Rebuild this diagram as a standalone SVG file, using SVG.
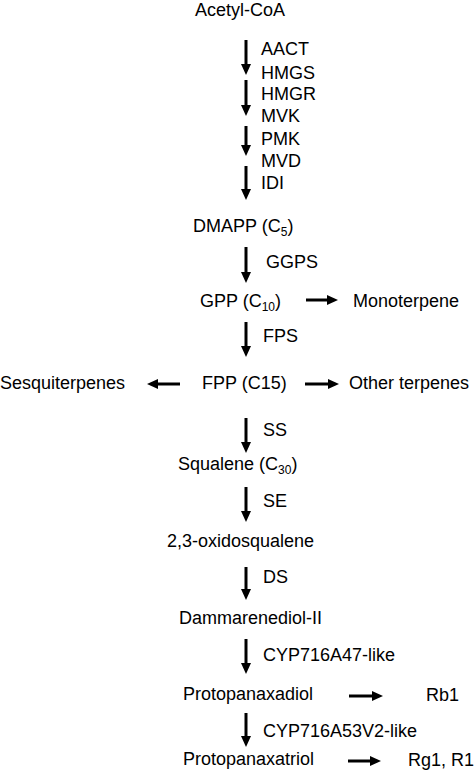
<svg xmlns="http://www.w3.org/2000/svg" width="474" height="771" viewBox="0 0 474 771">
<style>
text{font-family:"Liberation Sans",Arial,sans-serif;font-size:18px;fill:#000}
.s{font-size:12px}
.a{stroke:#000;stroke-width:3;fill:none;marker-end:url(#h)}
</style>
<defs>
<marker id="h" markerUnits="userSpaceOnUse" markerWidth="11" markerHeight="10" refX="0" refY="5" orient="auto">
<path d="M0,0 L11,5 L0,10 z" fill="#000"/>
</marker>
</defs>
<rect width="474" height="771" fill="#fff"/>
<g id="connectors">
<line class="a" x1="246" y1="40" x2="246" y2="64"/>
<line class="a" x1="246" y1="80" x2="246" y2="105"/>
<line class="a" x1="246" y1="126" x2="246" y2="145"/>
<line class="a" x1="246" y1="166" x2="246" y2="189"/>
<line class="a" x1="246" y1="247" x2="246" y2="272"/>
<line class="a" x1="306" y1="300" x2="327" y2="300"/>
<line class="a" x1="246" y1="322" x2="246" y2="346"/>
<line class="a" x1="180" y1="384" x2="158" y2="384"/>
<line class="a" x1="305" y1="384" x2="328" y2="384"/>
<line class="a" x1="246" y1="418" x2="246" y2="442"/>
<line class="a" x1="246" y1="487" x2="246" y2="511"/>
<line class="a" x1="246" y1="567" x2="246" y2="589"/>
<line class="a" x1="246" y1="639" x2="246" y2="663"/>
<line class="a" x1="349" y1="696" x2="372" y2="696"/>
<line class="a" x1="246" y1="713" x2="246" y2="736"/>
<line class="a" x1="348" y1="761" x2="370" y2="761"/>
</g>
<g id="enzymes">
<text x="261" y="55">AACT</text>
<text x="261" y="79">HMGS</text>
<text x="261" y="100">HMGR</text>
<text x="261" y="122">MVK</text>
<text x="261" y="145">PMK</text>
<text x="261" y="167">MVD</text>
<text x="261" y="189">IDI</text>
<text x="266" y="268">GGPS</text>
<text x="263" y="342">FPS</text>
<text x="263" y="436">SS</text>
<text x="263" y="507">SE</text>
<text x="263" y="583">DS</text>
<text x="263" y="661">CYP716A47-like</text>
<text x="263" y="737">CYP716A53V2-like</text>
</g>
<g id="acetylcoa"><text x="195" y="16">Acetyl-CoA</text></g>
<g id="dmapp"><text x="193" y="232">DMAPP (C<tspan class="s" dy="4">5</tspan><tspan dy="-4">)</tspan></text></g>
<g id="gpp"><text x="200" y="307">GPP (C<tspan class="s" dy="4">10</tspan><tspan dy="-4">)</tspan></text></g>
<g id="monoterpene"><text x="353" y="307">Monoterpene</text></g>
<g id="sesquiterpenes"><text x="0" y="389">Sesquiterpenes</text></g>
<g id="fpp"><text x="202" y="389">FPP (C15)</text></g>
<g id="otherterpenes"><text x="349" y="389">Other terpenes</text></g>
<g id="squalene"><text x="178" y="470">Squalene (C<tspan class="s" dy="4">30</tspan><tspan dy="-4">)</tspan></text></g>
<g id="oxidosqualene"><text x="167" y="547">2,3-oxidosqualene</text></g>
<g id="dammarenediol"><text x="179" y="624">Dammarenediol-II</text></g>
<g id="protopanaxadiol"><text x="183" y="700">Protopanaxadiol</text></g>
<g id="rb1"><text x="426" y="701">Rb1</text></g>
<g id="protopanaxatriol"><text x="183" y="765">Protopanaxatriol</text></g>
<g id="rg1r1"><text x="408" y="766">Rg1, R1</text></g>
</svg>
